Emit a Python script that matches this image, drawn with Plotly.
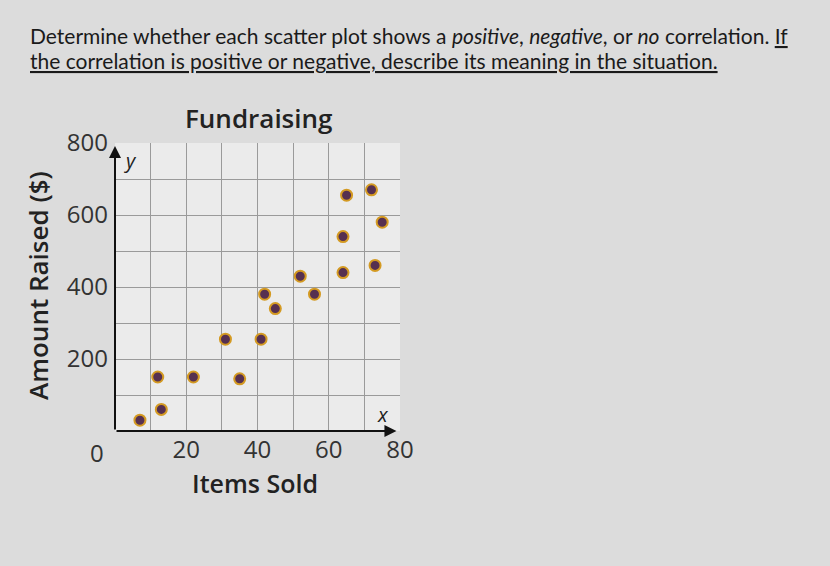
import plotly.graph_objects as go

# data
items_sold = [7, 12, 13, 22, 31, 35, 41, 42, 45, 52, 56, 64, 64, 65, 72, 75, 73]
amount_raised = [30, 150, 60, 150, 255, 145, 255, 380, 340, 430, 380, 440, 540, 655, 670, 580, 460]
x_ticks = [20, 40, 60, 80]
y_ticks = [200, 400, 600, 800]

font = "Lato, 'Open Sans', sans-serif"
chart_font = "'Open Sans', sans-serif"

# plot area in pixels: x 115..400, y 143..431
def px(x):
    return (x - 115) / 285

def py(y):
    return (431 - y) / 288

fig = go.Figure()
fig.add_trace(go.Scatter(
    x=items_sold, y=amount_raised, mode="markers",
    marker=dict(size=11, color="#563050", line=dict(color="#d49a22", width=2)),
    showlegend=False,
))

# axis arrows
fig.add_annotation(x=0, y=792, ax=0, ay=0, xref="x", yref="y", axref="x", ayref="y",
                   showarrow=True, arrowhead=2, arrowsize=1.2, arrowwidth=2, arrowcolor="#111", text="")
fig.add_annotation(x=79, y=0, ax=0, ay=0, xref="x", yref="y", axref="x", ayref="y",
                   showarrow=True, arrowhead=2, arrowsize=1.2, arrowwidth=2, arrowcolor="#111", text="")

def label(text, x, y, size, color="#222", family=chart_font, weight="normal"):
    fig.add_annotation(x=px(x), y=py(y), xref="paper", yref="paper", text=text, showarrow=False,
                       xanchor="center", yanchor="middle",
                       font=dict(family=family, size=size, color=color, weight=weight))

label("<i>y</i>", 130, 160, 20)
label("<i>x</i>", 383, 414, 20)
label("0", 97, 452, 24, color="#333")
label("Fundraising", 258, 118, 26, weight=600)
label("Items Sold", 255, 483, 25, weight=600)
fig.add_annotation(x=px(38), y=py(286), xref="paper", yref="paper", text="Amount Raised ($)",
                   showarrow=False, textangle=-90, xanchor="center", yanchor="middle",
                   font=dict(family=chart_font, size=26, color="#222", weight=600))

# question text
fig.add_annotation(
    x=px(28), y=py(35), xref="paper", yref="paper", xanchor="left", yanchor="middle", showarrow=False,
    text="Determine whether each scatter plot shows a <i>positive</i>, <i>negative</i>, or <i>no</i> correlation. "
         "<span style='text-decoration:underline'>If</span>",
    font=dict(family=font, size=21, color="#1a1a1a"))
fig.add_annotation(
    x=px(28), y=py(61), xref="paper", yref="paper", xanchor="left", yanchor="middle", showarrow=False,
    text="<span style='text-decoration:underline'>the correlation is positive or negative, "
         "describe its meaning in the situation.</span>",
    font=dict(family=font, size=21, color="#1a1a1a"))

fig.update_layout(
    width=830, height=566,
    margin=dict(l=115, r=430, t=143, b=135),
    paper_bgcolor="#dcdcdc", plot_bgcolor="#ebebeb",
    font=dict(family=chart_font, size=24, color="#333"),
)
fig.update_xaxes(
    range=[0, 80], tickvals=x_ticks, showgrid=True, gridcolor="#9a9a9a", gridwidth=1,
    minor=dict(dtick=10, tick0=0, showgrid=True, gridcolor="#9a9a9a"),
    zeroline=False, showline=False, ticks="", ticklabelstandoff=2,
)
fig.update_yaxes(
    range=[0, 800], tickvals=y_ticks, showgrid=True, gridcolor="#9a9a9a", gridwidth=1,
    minor=dict(dtick=100, tick0=0, showgrid=True, gridcolor="#9a9a9a"),
    zeroline=False, showline=False, ticks="", ticklabelstandoff=6,
)

fig.write_html("out.html", config={"displayModeBar": False},
               post_script="document.body.style.margin='0';")
